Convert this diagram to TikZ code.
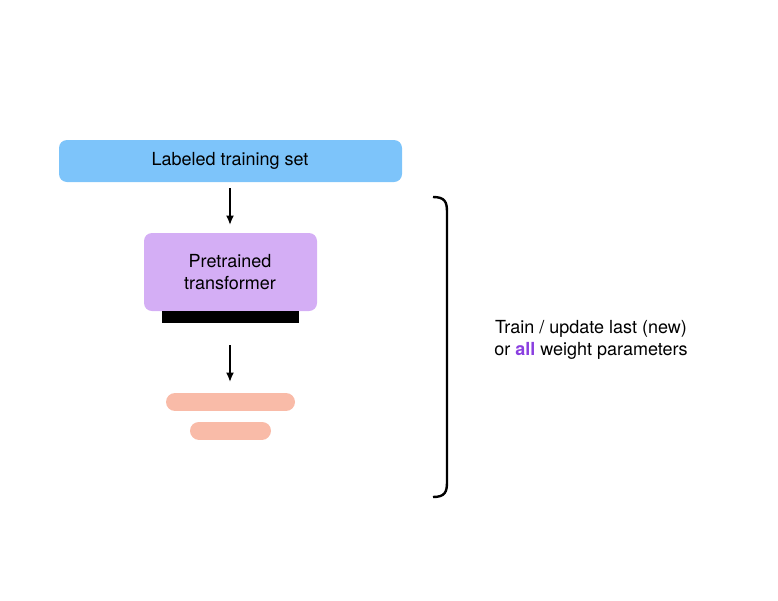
\documentclass[tikz,border=0pt]{standalone}
\usepackage{fontspec}
\setmainfont{TeX Gyre Heros}
\usetikzlibrary{arrows.meta}
\definecolor{cblue}{HTML}{7DC4FA}
\definecolor{cpurple}{HTML}{D4AEF5}
\definecolor{csalmon}{HTML}{F9BBA8}
\definecolor{call}{HTML}{8A3FE0}
\begin{document}
\begin{tikzpicture}[x=0.75pt,y=-0.75pt,
  lbl/.style={font=\fontsize{13.5}{16}\selectfont, align=center},
  arr/.style={-{Latex[length=7pt,width=6pt]}, line width=1.6pt}]
\useasboundingbox (0,0) rectangle (778,600);
\fill[cblue, rounded corners=6pt] (59,140) rectangle (402,182);
\node[lbl] (ts) at (230,161) {Labeled training set};
\coordinate (ts-b) at (230,188);
\coordinate (pt-t) at (230,225);
\draw[arr] (ts-b) -- (pt-t);
\fill[cpurple, rounded corners=6pt] (144,233) rectangle (317,311);
\node[lbl] (pt) at (230,272) {Pretrained\\transformer};
\fill[black] (162,311) rectangle (299,323);
\coordinate (a2s) at (230,345);
\coordinate (a2e) at (230,382);
\draw[arr] (a2s) -- (a2e);
\draw[csalmon, line width=13.5pt, line cap=round] (175,402) -- (286,402);
\draw[csalmon, line width=13.5pt, line cap=round] (199,430.5) -- (262,430.5);
\draw[line width=1.8pt] (433,197) .. controls (445,197) and (447,202) .. (447,212) -- (447,482) .. controls (447,492) and (445,497) .. (433,497);
\node[lbl] (txt) at (591,340) {Train / update last (new)\\or {\bfseries\color{call}all} weight parameters};
\end{tikzpicture}
\end{document}
